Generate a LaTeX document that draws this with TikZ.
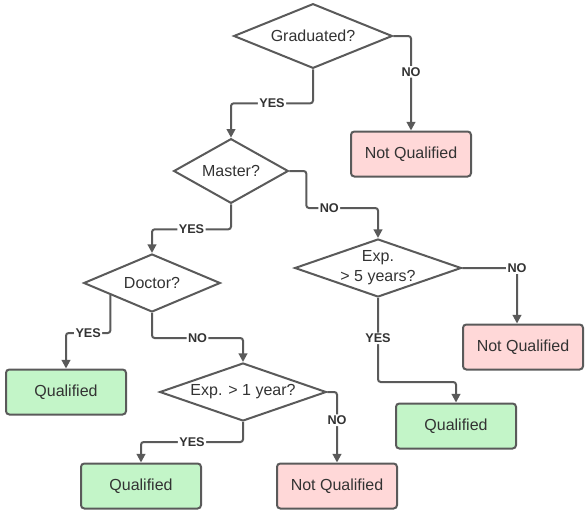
\documentclass[tikz,border=0pt]{standalone}
\usepackage{fontspec}
\setmainfont{Liberation Sans}
\usetikzlibrary{shapes.geometric}
\usetikzlibrary{arrows.meta}
\usetikzlibrary{calc}

\definecolor{linegray}{HTML}{5A5A5A}
\definecolor{textgray}{HTML}{333333}
\definecolor{qualgreen}{HTML}{C3F5C8}
\definecolor{notqred}{HTML}{FFD8D8}

\tikzset{
    decision/.style={shape=diamond, draw=linegray, line width=1.5pt, fill=white,
        inner sep=0pt, shape aspect=3, text=textgray, align=center,
        font=\fontsize{12}{15}\selectfont},
    outcome/.style={draw=linegray, line width=1.5pt, rounded corners=2.5pt,
        minimum width=90pt, minimum height=33.75pt, text=textgray,
        font=\fontsize{12}{15}\selectfont},
    qual/.style={outcome, fill=qualgreen},
    notq/.style={outcome, fill=notqred},
    flow/.style={draw=linegray, line width=1.5pt, rounded corners=2pt,
        -{Triangle[width=6.5pt,length=6.5pt]}},
    lbl/.style={fill=white, inner sep=1pt, text=textgray,
        font=\fontsize{9.5}{11}\selectfont\bfseries}
}

\begin{document}
\begin{tikzpicture}[x=0.75pt, y=-0.75pt]
    \useasboundingbox (0,0) rectangle (588,514);

    % decisions
    \node[decision, minimum width=119pt, minimum height=48.5pt] (grad) at (313,36) {Graduated?};
    \node[decision, minimum width=86pt, minimum height=48.5pt] (master) at (231,171) {Master?};
    \node[decision, minimum width=102.5pt, minimum height=43.5pt] (doctor) at (152,283) {Doctor?};
    \node[decision, minimum width=125pt, minimum height=43.5pt] (expone) at (243,392) {Exp. > 1 year?};
    \node[decision, inner ysep=-6pt, minimum width=125pt, minimum height=43.5pt] (expfive) at (378,268) {Exp.\\> 5 years?};

    % outcomes
    \node[notq] (nqone) at (411,154) {Not Qualified};
    \node[notq] (nqtwo) at (337,486) {Not Qualified};
    \node[notq] (nqthree) at (523,347) {Not Qualified};
    \node[qual] (qone) at (66,392) {Qualified};
    \node[qual] (qtwo) at (141,486) {Qualified};
    \node[qual] (qthree) at (456,426) {Qualified};

    % connectors
    \draw[flow] (grad.east) -| node[pos=0.69, lbl] {NO} (nqone.north);
    \draw[flow] (grad.south) -- ++(0,34) -| node[pos=0.25, lbl] {YES} (master.north);
    \draw[flow] (master.east) -| ++(17,37) -| node[pos=0.16, lbl] {NO} (expfive.north);
    \draw[flow] (master.south) -- ++(0,25) -| node[pos=0.25, lbl] {YES} (doctor.north);
    \draw[flow] ($(doctor.west)!0.4!(doctor.south)$) -- ++(0,38)
        -| node[pos=0.25, lbl] {YES} (qone.north);
    \draw[flow] (doctor.south) -- ++(0,25) -| node[pos=0.25, lbl] {NO} (expone.north);
    \draw[flow] (expone.south) -- ++(0,20) -| node[pos=0.25, lbl] {YES} (qtwo.north);
    \draw[flow] (expone.east) -| node[pos=0.7, lbl] {NO} (nqtwo.north);
    \draw[flow] (expfive.east) -| node[pos=0.5, lbl] {NO} ([xshift=-4.5pt]nqthree.north);
    \draw[flow] (expfive.south) -- node[pos=0.48, lbl] {YES} ++(0,84) -| (qthree.north);
\end{tikzpicture}
\end{document}
